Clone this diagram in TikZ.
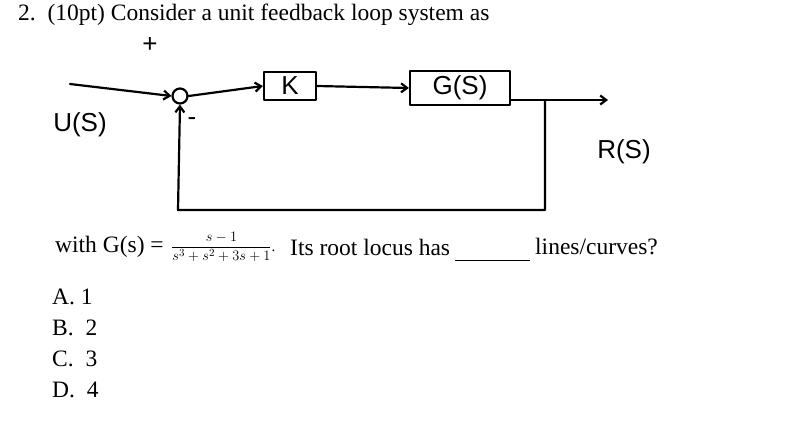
\documentclass[tikz,border=0pt]{standalone}
\usepackage{fontspec}
\setmainfont{Liberation Serif}
\newfontfamily\hand{Liberation Sans}
\usetikzlibrary{arrows.meta}
\begin{document}
\begin{tikzpicture}[x=1pt,y=-1pt,
  txt/.style={anchor=west,inner sep=0,font=\fontsize{23.5}{26}\selectfont},
  hw/.style={font=\hand\fontsize{26}{28}\selectfont,inner sep=1},
  ink/.style={line width=2.2pt,line cap=round,line join=round},
  arr/.style={ink,-{Straight Barb[length=6pt,width=9pt]}}]
\useasboundingbox (0,0) rectangle (792,421);
\node[txt] (title) at (18,15) {2.\ \ (10pt) Consider a unit feedback loop system as};
\node[hw] (plus) at (150,45) {+};
\coordinate (in) at (70,84);
\node[draw,circle,ink,minimum size=15pt,inner sep=0] (sum) at (180,96) {};
\node[hw] (u) at (80,125) {U(S)};
\node[draw,ink,minimum width=52pt,minimum height=28pt,hw] (k) at (290,86) {K};
\node[draw,ink,minimum width=100pt,minimum height=34pt,hw] (g) at (460,88) {G(S)};
\coordinate (out) at (608,100);
\coordinate (tap) at (545,100);
\coordinate (bot) at (545,210);
\coordinate (botl) at (178,210);
\node[hw] (minus) at (192,122) {-};
\node[hw] (r) at (624,152) {R(S)};
\draw[arr] (in) -- (sum.west);
\draw[arr] (sum.east) -- (k.west);
\draw[arr] (k.east) -- (g.west);
\draw[arr] (g.east |- out) -- (out);
\draw[arr] (tap) -- (bot) -- (botl) -- (sum.south);
\node[txt] (with) at (55,247) {with G(s) =};
\node[anchor=west,inner sep=1,font=\fontsize{15}{17}\selectfont] (frac) at (170,247) {$\displaystyle\frac{s-1}{s^3+s^2+3s+1}$.};
\node[txt] (its) at (290,247) {Its root locus has};
\draw[line width=0.8pt] (455,260) -- (530,260);
\node[txt] (lc) at (535,247) {lines/curves?};
\node[txt] (a) at (52,297) {A.\ 1};
\node[txt] (b) at (52,328) {B.\ \ 2};
\node[txt] (c) at (52,359) {C.\ \ 3};
\node[txt] (d) at (52,390) {D.\ \ 4};
\end{tikzpicture}
\end{document}
